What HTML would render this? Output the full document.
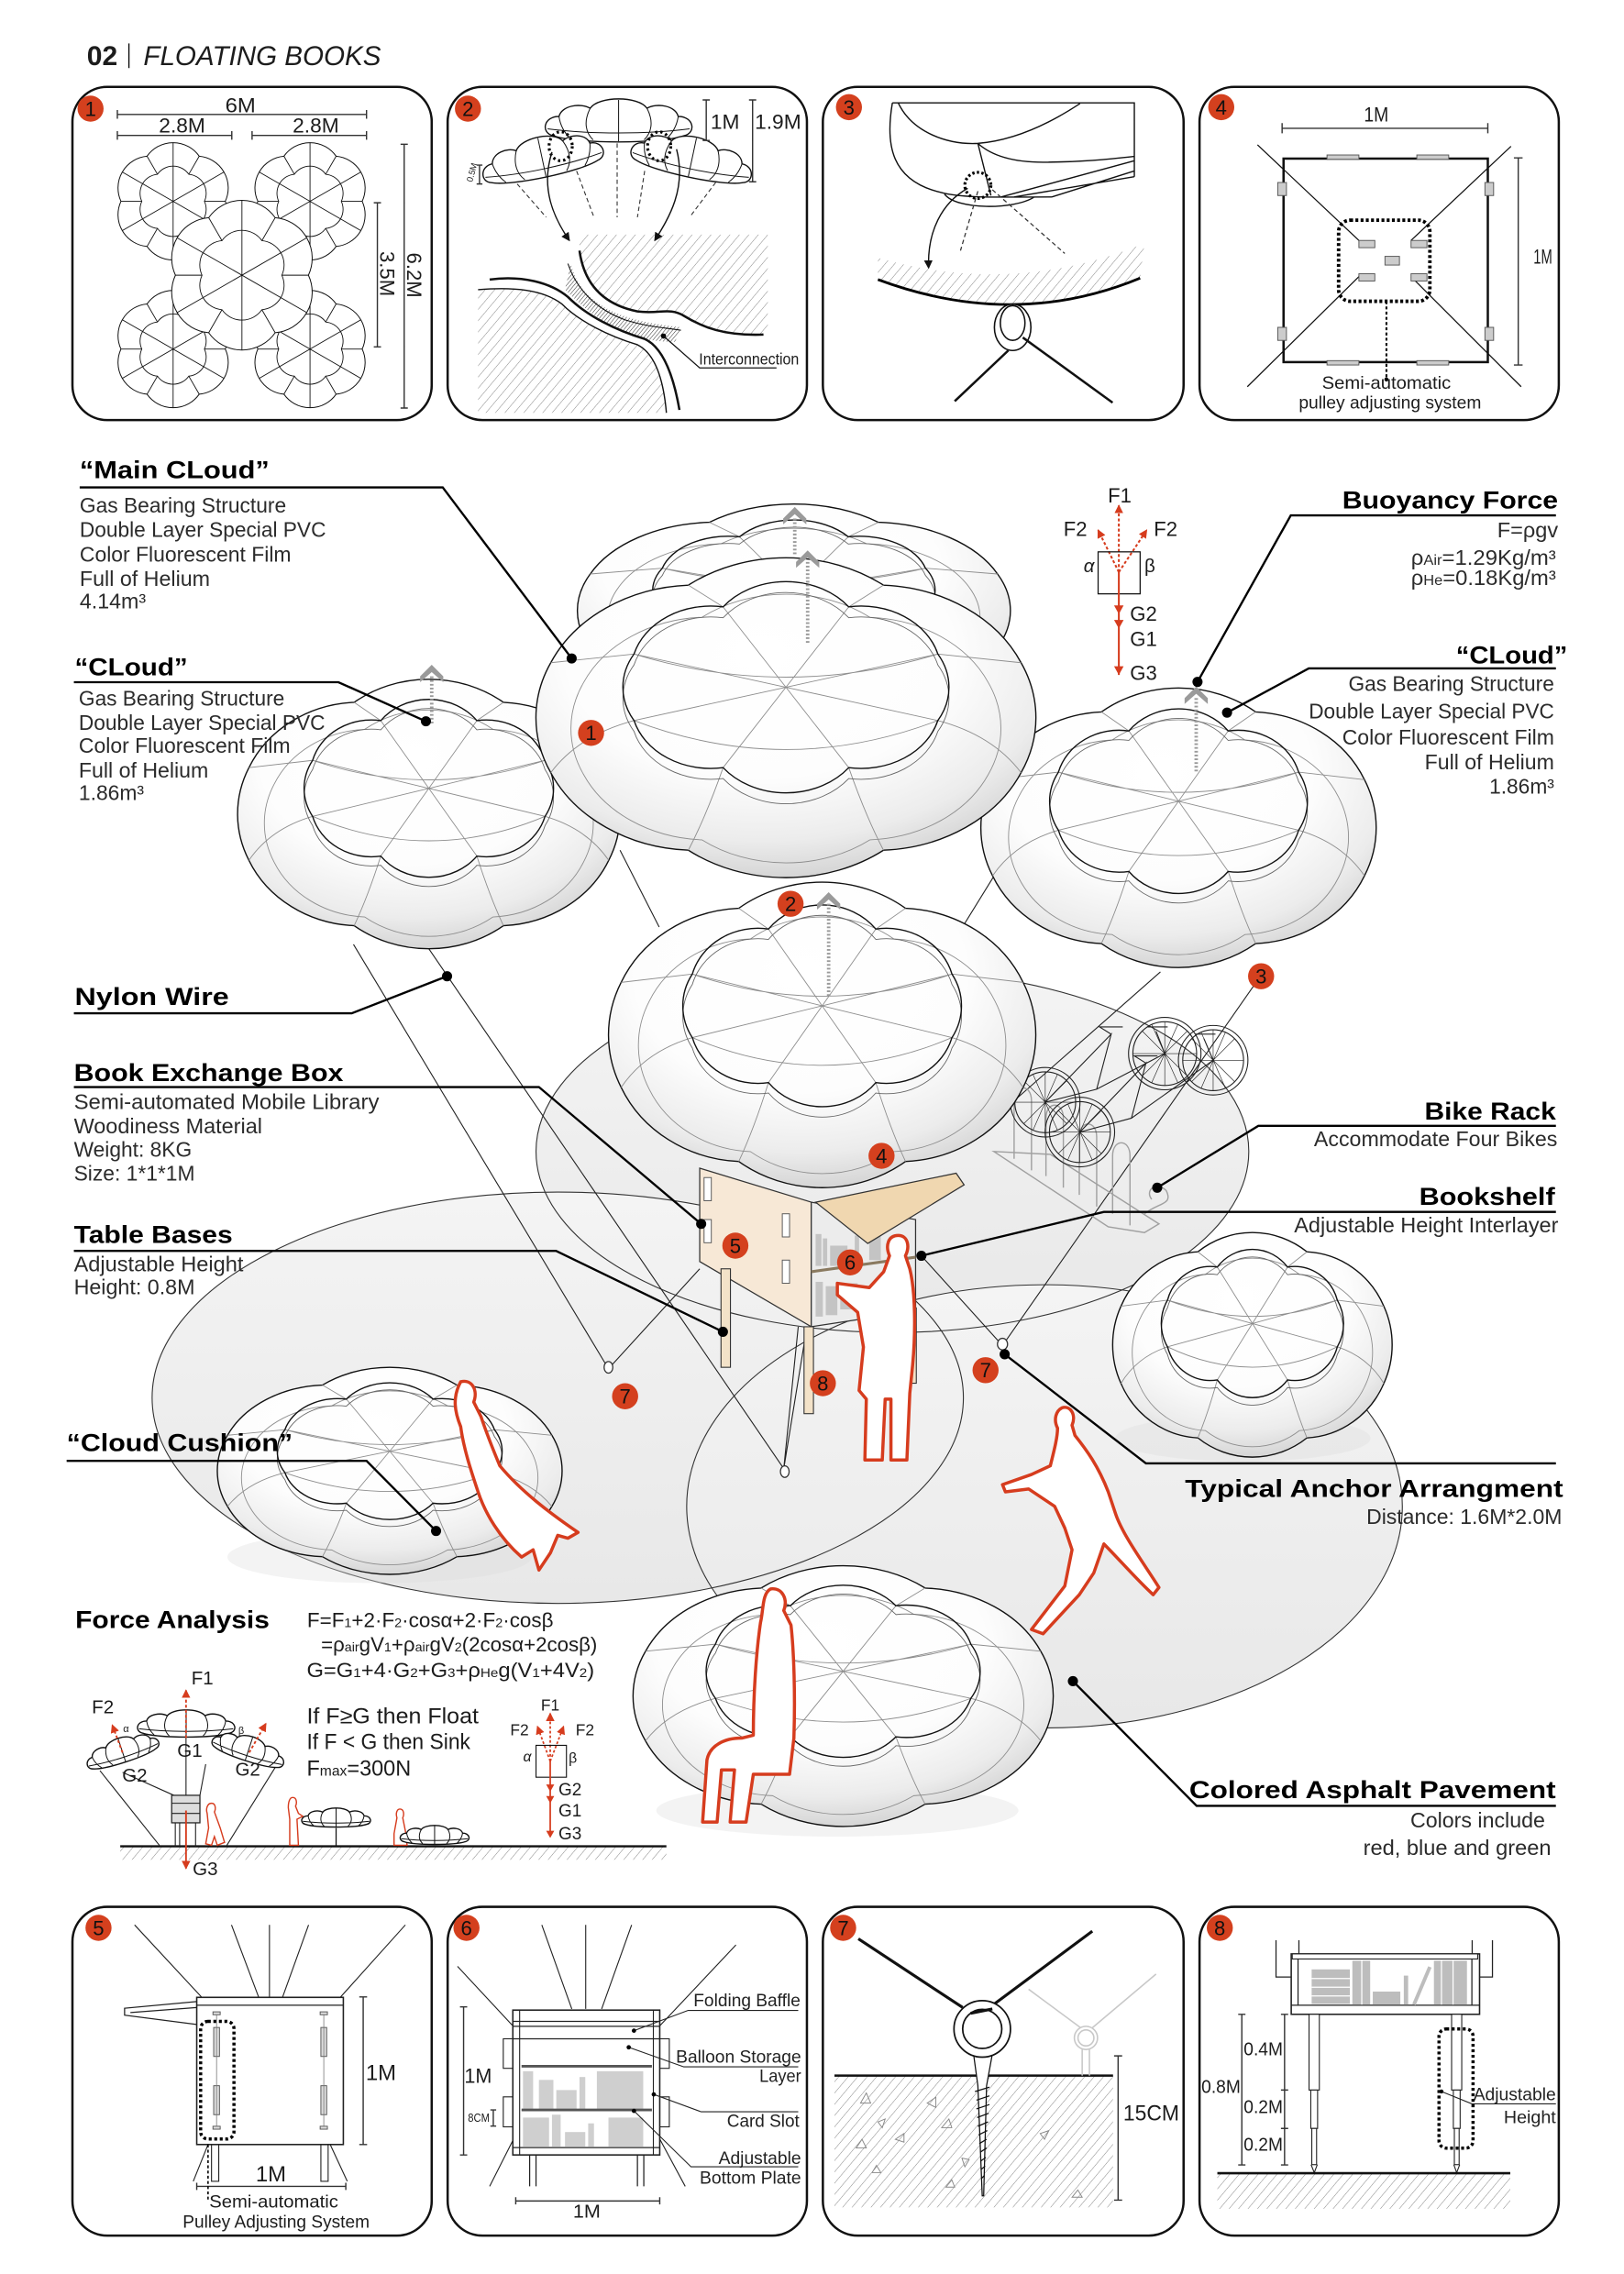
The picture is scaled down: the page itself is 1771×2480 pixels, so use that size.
<!DOCTYPE html>
<html><head><meta charset="utf-8">
<style>
html,body{margin:0;padding:0;background:#fff;}
svg{display:block;}
text{font-family:"Liberation Sans",Arial,sans-serif;fill:#1c1c1c;}
.h{font-weight:bold;font-size:17px;fill:#000;}
.b{font-size:14.5px;fill:#2b2b2b;}
.s{font-size:12.5px;fill:#222;}
.n{font-size:14px;fill:#111;text-anchor:middle;}
.ld{stroke:#000;stroke-width:1.5;fill:none;}
.k{stroke:#111;stroke-width:1.4;fill:none;vector-effect:non-scaling-stroke;}
.kf{stroke:#111;stroke-width:1.4;vector-effect:non-scaling-stroke;}
.g{stroke:#8e8e8e;stroke-width:0.9;fill:none;vector-effect:non-scaling-stroke;}
.pn{fill:none;stroke:#111;stroke-width:1.6;}
.w{stroke:#222;stroke-width:0.7;fill:none;}
.fig{fill:#fff;stroke:#d63c1e;stroke-width:2.2;stroke-linejoin:round;}
.d{stroke:#333;stroke-width:0.9;fill:none;}
</style></head><body>
<svg width="1771" height="2480" viewBox="0 0 1121 1570" preserveAspectRatio="none" xmlns="http://www.w3.org/2000/svg">
<defs>
<radialGradient id="cg" cx="0.45" cy="0.3" r="0.78">
<stop offset="0" stop-color="#ffffff"/><stop offset="0.5" stop-color="#fdfdfd"/><stop offset="0.75" stop-color="#ececec"/><stop offset="0.92" stop-color="#d2d2d2"/><stop offset="1" stop-color="#bdbdbd"/>
</radialGradient>
<linearGradient id="pv" x1="0" y1="0" x2="0" y2="1"><stop offset="0" stop-color="#f4f4f4"/><stop offset="1" stop-color="#e8e8e8"/></linearGradient>
<pattern id="h" width="5" height="5" patternUnits="userSpaceOnUse" patternTransform="rotate(40)"><line x1="0" y1="0" x2="0" y2="5" stroke="#666" stroke-width="0.5"/></pattern>
<pattern id="hd" width="2" height="2" patternUnits="userSpaceOnUse" patternTransform="rotate(40)"><line x1="0" y1="0" x2="0" y2="2" stroke="#222" stroke-width="0.6"/></pattern>
<marker id="ka" viewBox="0 0 8 8" refX="7" refY="4" markerWidth="6" markerHeight="6" markerUnits="userSpaceOnUse" orient="auto"><path d="M0,0 L8,4 L0,8 z" fill="#111"/></marker>
<marker id="ra" viewBox="0 0 8 8" refX="7" refY="4" markerWidth="6" markerHeight="6" markerUnits="userSpaceOnUse" orient="auto"><path d="M0,0 L8,4 L0,8 z" fill="#d63c1e"/></marker>
<g id="cl">
<path d="M88.7,25.3A60,60 0 0 1 36.8,61A60,60 0 0 1 -36.8,61A60,60 0 0 1 -88.7,25.3A60,60 0 0 1 -88.7,-25.3A60,60 0 0 1 -36.8,-61A60,60 0 0 1 36.8,-61A60,60 0 0 1 88.7,-25.3A60,60 0 0 1 88.7,25.3Z" fill="url(#cg)" class="kf"/>
<path d="M88.7,25.3A60,60 0 0 1 36.8,61A60,60 0 0 1 -36.8,61A60,60 0 0 1 -88.7,25.3A60,60 0 0 1 -88.7,-25.3A60,60 0 0 1 -36.8,-61A60,60 0 0 1 36.8,-61A60,60 0 0 1 88.7,-25.3A60,60 0 0 1 88.7,25.3Z" transform="translate(0,5) scale(0.86,0.84)" class="g"/>
<path class="g" d="M0,-14L57.3,1.3M0,-14L23.7,23M0,-14L-23.7,23M0,-14L-57.3,1.3M0,-14L-57.3,-29.3M0,-14L-23.7,-51M0,-14L23.7,-51M0,-14L57.3,-29.3M57.3,1.3Q78,8 88.7,25.3M23.7,23Q30,45 36.8,61M-23.7,23Q-30,45 -36.8,61M-57.3,1.3Q-78,8 -88.7,25.3M-57.3,-29.3L-88.7,-25.3M57.3,-29.3L88.7,-25.3M-23.7,-51L-36.8,-61M23.7,-51L36.8,-61M-57.3,1.3Q0,28 57.3,1.3M-57.3,-29.3Q0,-8 57.3,-29.3"/>
<path d="M57.3,1.3A30,30 0 0 1 23.7,23A30,30 0 0 1 -23.7,23A30,30 0 0 1 -57.3,1.3A30,30 0 0 1 -57.3,-29.3A30,30 0 0 1 -23.7,-51A30,30 0 0 1 23.7,-51A30,30 0 0 1 57.3,-29.3A30,30 0 0 1 57.3,1.3Z" transform="translate(0,5)" class="g" style="stroke:#666"/>
<path d="M57.3,1.3A30,30 0 0 1 23.7,23A30,30 0 0 1 -23.7,23A30,30 0 0 1 -57.3,1.3A30,30 0 0 1 -57.3,-29.3A30,30 0 0 1 -23.7,-51A30,30 0 0 1 23.7,-51A30,30 0 0 1 57.3,-29.3A30,30 0 0 1 57.3,1.3Z" class="k"/>
</g>
<g id="fl">
<path d="M0.9,0A0.55,0.55 0 0 1 0.45,0.779A0.55,0.55 0 0 1 -0.45,0.779A0.55,0.55 0 0 1 -0.9,0A0.55,0.55 0 0 1 -0.45,-0.779A0.55,0.55 0 0 1 0.45,-0.779A0.55,0.55 0 0 1 0.9,0Z" fill="#fff" class="kf" style="stroke-width:1"/>
<path d="M0.9,0A0.55,0.55 0 0 1 0.45,0.779A0.55,0.55 0 0 1 -0.45,0.779A0.55,0.55 0 0 1 -0.9,0A0.55,0.55 0 0 1 -0.45,-0.779A0.55,0.55 0 0 1 0.45,-0.779A0.55,0.55 0 0 1 0.9,0Z" transform="scale(0.6)" class="k" style="stroke-width:0.9"/>
<path class="k" style="stroke-width:0.9" d="M-0.877,-0.506L0.877,0.506M0,-1.013L0,1.013M-0.877,0.506L0.877,-0.506M0.54,0L0.9,0M-0.54,0L-0.9,0M0.27,0.467L0.45,0.779M-0.27,0.467L-0.45,0.779M0.27,-0.467L0.45,-0.779M-0.27,-0.467L-0.45,-0.779"/>
</g>
<g id="sc">
<path class="kf" fill="#fff" d="M-46,6C-55,4 -53,-8 -42,-8C-40,-16 -27,-18 -20,-14C-14,-23 14,-23 20,-14C27,-18 40,-16 42,-8C53,-8 55,4 46,6C30,12 -30,12 -46,6Z"/>
<path class="k" style="stroke-width:1" d="M-20,-14C-25,-4 -23,4 -18,9M20,-14C25,-4 23,4 18,9M-42,-8C-41,-1 -38,4 -34,8M42,-8C41,-1 38,4 34,8M-50,1C-20,5 20,5 50,1M0,-20L0,10"/>
</g>
<g id="up"><path d="M-8,8 L0,0 L8,8 L8,12 L0,5 L-8,12 Z" fill="#9a9a9a"/></g>
</defs>

<!-- TITLE -->
<text x="60" y="45" font-size="19" font-weight="bold" fill="#000">02</text>
<line x1="89" y1="30" x2="89" y2="47" stroke="#000" stroke-width="0.8"/>
<text x="99" y="45" font-size="19" font-style="italic" textLength="164" lengthAdjust="spacingAndGlyphs" fill="#111">FLOATING BOOKS</text>

<!-- TOP PANELS -->
<rect x="50" y="60" width="248" height="230" rx="24" class="pn"/>
<rect x="309" y="60" width="248" height="230" rx="24" class="pn"/>
<rect x="568" y="60" width="249" height="230" rx="24" class="pn"/>
<rect x="828" y="60" width="248" height="230" rx="24" class="pn"/>

<!-- panel 1 -->
<path class="d" d="M81,79H253M81,76V82M253,76V82M81,93.5H160M81,90.5V96.5M160,90.5V96.5M174,93.5H253M174,90.5V96.5M253,90.5V96.5M260.5,140V239.5M258,140H263M258,239.5H263M279,99.6V281.7M276.5,99.6H281.5M276.5,281.7H281.5"/>
<text x="166" y="77.5" font-size="14" text-anchor="middle" textLength="21" lengthAdjust="spacingAndGlyphs">6M</text>
<text x="125.7" y="91.5" font-size="14" text-anchor="middle" textLength="32" lengthAdjust="spacingAndGlyphs">2.8M</text>
<text x="218" y="91.5" font-size="14" text-anchor="middle" textLength="32" lengthAdjust="spacingAndGlyphs">2.8M</text>
<text transform="translate(262.5,189) rotate(90)" font-size="14" text-anchor="middle">3.5M</text>
<text transform="translate(281,190) rotate(90)" font-size="14" text-anchor="middle">6.2M</text>
<use href="#fl" transform="translate(119.5,139) scale(40,40)"/>
<use href="#fl" transform="translate(214,139) scale(40,40)"/>
<use href="#fl" transform="translate(119.5,241) scale(40,40)"/>
<use href="#fl" transform="translate(214,241) scale(40,40)"/>
<use href="#fl" transform="translate(167,190) scale(51,51)"/>

<!-- panel 2 -->
<path d="M400,162 L530,162 L530,231 C500,232 485,226 472,218 C462,212 455,217 440,215 C415,210 403,195 400,173 Z" fill="url(#h)"/>
<path d="M330,200 C355,198 375,200 388,210 C400,222 420,232 440,238 C452,244 458,262 460,285 L330,285 Z" fill="url(#h)"/>
<path d="M394,182 C398,198 408,210 430,218 C445,223 455,224 470,226 L466,236 C450,236 438,233 426,227 C410,219 398,208 390,200 Z" fill="url(#hd)"/>
<path d="M400,173 C403,195 415,210 440,215 C455,217 462,212 472,218 C485,226 500,232 527,231" fill="none" stroke="#111" stroke-width="1.6"/>
<path d="M338,193 C360,190 380,195 392,205 C405,218 425,228 445,234 C458,240 465,260 469,283" fill="none" stroke="#111" stroke-width="1.6"/>
<path d="M330,200 C355,198 375,200 388,210 C400,222 420,232 440,238 C452,244 458,262 460,285" fill="none" stroke="#111" stroke-width="0.9"/>
<path d="M392,182 C398,200 412,214 432,221 C448,226 458,226 470,228" fill="none" stroke="#111" stroke-width="0.7"/>
<path d="M357,127L377,150M398,118L410,150M426,99L426,150M445,118L440,150M494,126L476,150" stroke="#333" stroke-width="0.7" stroke-dasharray="3 2" fill="none"/>
<use href="#sc" transform="translate(427,88) scale(0.98,0.95)"/>
<use href="#sc" transform="translate(375,113) rotate(-12) scale(0.82,0.9)"/>
<use href="#sc" transform="translate(477,113) rotate(12) scale(0.82,0.9)"/>
<ellipse cx="387" cy="101" rx="8" ry="10" fill="none" stroke="#000" stroke-width="2" stroke-dasharray="1.6 2"/>
<ellipse cx="455" cy="101" rx="8" ry="10" fill="none" stroke="#000" stroke-width="2" stroke-dasharray="1.6 2"/>
<path d="M381,105 C373,130 382,150 393,166" fill="none" stroke="#111" stroke-width="0.9" marker-end="url(#ka)"/>
<path d="M467,103 C474,130 462,150 452,166" fill="none" stroke="#111" stroke-width="0.9" marker-end="url(#ka)"/>
<path class="d" d="M487.5,69V97M485,69H490M485,97H490M519.5,69V125.5M517,69H522M517,125.5H522M331,114V127M329,114H333M329,127H333"/>
<text x="490.5" y="89" font-size="14" textLength="20" lengthAdjust="spacingAndGlyphs">1M</text>
<text x="521" y="89" font-size="14" textLength="32" lengthAdjust="spacingAndGlyphs">1.9M</text>
<text transform="translate(326,126) rotate(-75)" font-size="6">0.5M</text>
<circle cx="458" cy="232" r="1.8" fill="#000"/>
<path d="M458,232 L483,254 L536,254" fill="none" stroke="#111" stroke-width="0.8"/>
<text x="482.5" y="251.5" font-size="11" textLength="69" lengthAdjust="spacingAndGlyphs">Interconnection</text>

<!-- panel 3 -->
<path d="M606,178 Q700,205 790,168 L787,192 Q700,228 606,193 Z" fill="url(#h)"/>
<path d="M606,193 Q700,228 787,192" fill="none" stroke="#000" stroke-width="1.8"/>
<path d="M616,71 L783,71 L783,122 M616,71 C611,100 615,125 650,133 C665,137 690,136 726,136 M620,71 C630,92 655,100 675,99 C700,97 725,85 745.5,71.5 M675,99 C685,108 700,112 720,112 C745,112 765,110 783,108 M675,99 L684,135 M691,136 L783,111 M726,136 L783,118 M700,136 L783,122 M652,134 C660,145 700,145 714,136" fill="none" stroke="#111" stroke-width="0.9"/>
<circle cx="675" cy="128" r="9" fill="none" stroke="#000" stroke-width="2" stroke-dasharray="1.6 1.6"/>
<path d="M668,130 C650,140 640,160 641,185" fill="none" stroke="#111" stroke-width="0.9" marker-end="url(#ka)"/>
<path d="M675,132L663,173M685,131L735,175" stroke="#333" stroke-width="0.8" stroke-dasharray="3 2" fill="none"/>
<ellipse cx="699" cy="226" rx="12.6" ry="16" fill="#fff" stroke="#111" stroke-width="1"/>
<ellipse cx="699" cy="223" rx="8.5" ry="12" fill="#fff" stroke="#111" stroke-width="1"/>
<path d="M696,242L659,277M706,233L768,278" stroke="#111" stroke-width="1.6" fill="none"/>

<!-- panel 4 -->
<path class="d" d="M885,88.6H1027M885,85V92M1027,85V92M1048,109V252M1045,109H1051M1045,252H1051"/>
<text x="950" y="84" font-size="14" text-anchor="middle" textLength="17" lengthAdjust="spacingAndGlyphs">1M</text>
<text x="1058.5" y="182" font-size="14" textLength="13" lengthAdjust="spacingAndGlyphs">1M</text>
<rect x="886" y="109.5" width="141" height="140.5" fill="#fff" stroke="#111" stroke-width="1.6"/>
<path d="M868,100L938,166M1043,101L974,166M938,191L861,267M974,191L1050,267" stroke="#111" stroke-width="0.8" fill="none"/>
<g fill="#ccc" stroke="#555" stroke-width="0.6">
<rect x="938" y="166" width="11" height="5"/><rect x="974" y="166" width="11" height="5"/><rect x="938" y="189" width="11" height="5"/><rect x="974" y="189" width="11" height="5"/><rect x="956" y="177" width="10" height="6"/>
<rect x="882" y="126" width="6" height="9"/><rect x="882" y="226" width="6" height="9"/><rect x="1025" y="126" width="6" height="9"/><rect x="1025" y="226" width="6" height="9"/>
<rect x="916" y="107" width="22" height="3"/><rect x="978" y="107" width="22" height="3"/><rect x="916" y="249" width="22" height="3"/><rect x="978" y="249" width="22" height="3"/>
</g>
<rect x="924" y="152" width="63" height="56" rx="8" fill="none" stroke="#000" stroke-width="2.4" stroke-dasharray="2 1.6"/>
<path d="M957,208V262" stroke="#000" stroke-width="1.3" stroke-dasharray="2 1.6"/>
<circle cx="957" cy="262" r="1.4" fill="#000"/>
<text x="957" y="268.5" font-size="12.5" text-anchor="middle" textLength="89" lengthAdjust="spacingAndGlyphs">Semi-automatic</text>
<text x="959.5" y="282" font-size="12.5" text-anchor="middle" textLength="126" lengthAdjust="spacingAndGlyphs">pulley adjusting system</text>

<!-- MAIN SCENE: pavements -->
<ellipse cx="616" cy="795" rx="246" ry="125" fill="url(#pv)"/>
<ellipse cx="385" cy="965" rx="280" ry="142" fill="url(#pv)"/>
<ellipse cx="721" cy="1040" rx="247" ry="153" fill="url(#pv)"/>
<g fill="none" stroke="#333" stroke-width="0.7">
<ellipse cx="616" cy="795" rx="246" ry="125"/>
<ellipse cx="385" cy="965" rx="280" ry="142"/>
<ellipse cx="721" cy="1040" rx="247" ry="153"/>
</g>
<!-- cushion shadows -->
<ellipse cx="262" cy="1075" rx="105" ry="18" fill="#dcdcdc" opacity="0.35"/>
<ellipse cx="858" cy="993" rx="88" ry="16" fill="#dcdcdc" opacity="0.35"/>
<ellipse cx="578" cy="1250" rx="125" ry="18" fill="#dcdcdc" opacity="0.35"/>

<!-- wires -->
<path class="w" d="M244,652L420,945M296,655L541,1014M420,945L483,876M428,587L455,640M686,605L657,652M801,671L700,760M870,674L692,929M692,929L636,867M541,1014L557,916M541,1014L551,916"/>
<g fill="#fff" stroke="#333" stroke-width="0.8">
<ellipse cx="420" cy="944" rx="3" ry="4"/><ellipse cx="692" cy="928" rx="3.5" ry="4"/><ellipse cx="541.7" cy="1016" rx="3" ry="4"/>
</g>

<!-- bike rack -->
<g stroke="#a0a0a0" stroke-width="0.9" fill="none">
<path d="M686,795 L765,847 L790,851 L800,845 L725,797 Z"/>
<path d="M700,800 L700,760 C700,748 712,748 712,760 L712,808"/>
<path d="M722,812 L722,772 C722,760 734,760 734,772 L734,820"/>
<path d="M745,825 L745,785 C745,773 757,773 757,785 L757,833"/>
<path d="M768,838 L768,798 C768,786 780,786 780,798 L780,846"/>
<path d="M790,838 C800,830 810,832 805,822 C798,815 790,822 795,828"/>
</g>
<g stroke="#222" stroke-width="0.7" fill="none">
<circle cx="721.5" cy="761" r="24"/><circle cx="721.5" cy="761" r="21"/>
<circle cx="745.4" cy="781.6" r="24"/><circle cx="745.4" cy="781.6" r="21"/>
<circle cx="804" cy="727.4" r="25"/><circle cx="804" cy="727.4" r="22"/>
<circle cx="837.4" cy="732" r="24"/><circle cx="837.4" cy="732" r="21"/>
<path stroke-width="0.4" d="M721.5,740V782M700.5,761H742.5M706.7,746.2L736.3,775.8M706.7,775.8L736.3,746.2M713,741.6L730,780.4M713,780.4L730,741.6M745.4,760.6V802.6M724.4,781.6H766.4M730.6,766.8L760.2,796.4M730.6,796.4L760.2,766.8M737,762L754,801M737,801L754,762M804,705.4V749.4M782,727.4H826M788.4,711.8L819.6,743M788.4,743L819.6,711.8M795,707.4L813,747.4M795,747.4L813,707.4M837.4,711V753M816.4,732H858.4M822.6,717.2L852.2,746.8M822.6,746.8L852.2,717.2M829,712.4L846,751.6M829,751.6L846,712.4"/>
<path d="M721.5,761L757,752L804,727.4M757,752L767,714L721.5,761M767,714L759,709L775,709M798,712L804,727.4M792,709L806,709M745.4,781.6L781,772L837.4,732M781,772L791,734L745.4,781.6M791,734L783,729L799,729M831,717L837.4,732M825,714L839,714"/>
</g>

<!-- book exchange box -->
<polygon points="483,806.5 560,830 560,916 483,871" fill="#f7e8d6" stroke="#333" stroke-width="0.8"/>
<polygon points="560,830 632,842 632,905 560,916" fill="#ececec" stroke="#333" stroke-width="0.8"/>
<g fill="#c4c4c4">
<rect x="563" y="852" width="4" height="22"/><rect x="568" y="855" width="3" height="19"/><rect x="573" y="860" width="12" height="14"/><rect x="590" y="853" width="3" height="20"/><rect x="600" y="850" width="8" height="20"/>
<rect x="563" y="885" width="5" height="24"/><rect x="570" y="888" width="8" height="20"/><rect x="580" y="886" width="12" height="18"/>
</g>
<path d="M560,878 L632,868" stroke="#8a7a60" stroke-width="2"/>
<polygon points="563,830 660,810 665.5,818 599,858.5" fill="#f0d7b0" stroke="#333" stroke-width="0.8"/>
<g fill="#fff" stroke="#555" stroke-width="0.6">
<rect x="486" y="813" width="5" height="16"/><rect x="486" y="842" width="5" height="16"/><rect x="540" y="838" width="5" height="16"/><rect x="540" y="870" width="5" height="16"/>
</g>
<rect x="497.7" y="876" width="6.5" height="68" fill="#f3e2c8" stroke="#333" stroke-width="0.7"/>
<rect x="555" y="916" width="6.5" height="60" fill="#f3e2c8" stroke="#333" stroke-width="0.7"/>
<rect x="628" y="903" width="4.5" height="52" fill="#f3e2c8" stroke="#333" stroke-width="0.7"/>

<!-- clouds -->
<use href="#cl" transform="translate(548,421.6) scale(1.585,1)"/>
<use href="#cl" transform="translate(296,562) scale(1.4,1.264)"/>
<use href="#cl" transform="translate(813.5,571.5) scale(1.447,1.311)"/>
<use href="#cl" transform="translate(542.5,495.5) scale(1.83,1.5)"/>
<use href="#cl" transform="translate(567.5,714.5) scale(1.564,1.433)"/>
<use href="#cl" transform="translate(269,1015.5) scale(1.262,0.971)"/>
<use href="#cl" transform="translate(864.5,928.5) scale(1.023,1.053)"/>
<use href="#cl" transform="translate(582,1171) scale(1.538,1.223)"/>

<!-- up arrows -->
<g stroke="#9a9a9a" stroke-width="2.4" stroke-dasharray="1.2 1.4" fill="none">
<path d="M548.6,358V383M557.5,388V445M298,467V500M825.7,482V534M572,624V689"/>
</g>
<use href="#up" transform="translate(548.6,350)"/>
<use href="#up" transform="translate(557.5,380)"/>
<use href="#up" transform="translate(298,459)"/>
<use href="#up" transform="translate(825.7,474)"/>
<use href="#up" transform="translate(572,616)"/>

<!-- red figures -->
<path class="fig" d="M620,853 C627,853 628,861 625,867 L628,876 C632,892 632,920 630,942 L628,962 L626,1008 L615,1008 L615,966 L611,966 L609,1008 L597,1008 L598,966 L593,960 L596,930 L592,906 L578,894 L578,886 L600,889 L610,878 L614,867 C611,860 613,853 620,853 Z"/>
<path class="fig" d="M318,954 C326,952 330,960 327,968 L332,978 C336,990 340,1000 345,1012 C360,1030 380,1045 399,1058 L392,1062 L385,1060 L380,1072 L372,1084 L368,1070 L360,1075 C345,1062 335,1045 330,1030 C325,1015 320,1000 318,985 C314,975 312,965 318,954 Z"/>
<path class="fig" d="M733,972 C739,970 743,977 740,984 L742,991 C750,1001 758,1012 765,1030 L770,1045 C775,1060 790,1080 800,1096 L796,1101 C785,1091 772,1076 762,1066 L755,1086 L745,1101 L720,1128 L712,1125 L735,1095 L740,1070 L735,1055 L728,1040 L710,1028 L694,1030 L692,1025 L712,1018 L725,1012 C728,1000 730,992 730,986 C727,980 729,974 733,972 Z"/>
<path class="fig" d="M532,1097 C540,1096 544,1104 541,1112 L546,1122 C548,1140 549,1170 548,1200 L545,1225 L520,1225 L515,1258 L504,1258 L507,1222 L498,1222 L495,1258 L485,1258 L488,1215 C490,1205 500,1200 512,1200 L520,1198 C520,1170 522,1140 525,1120 C527,1112 526,1100 532,1097 Z"/>

<!-- top force diagram -->
<g stroke="#d63c1e" stroke-width="1.3" stroke-dasharray="2 1.5" fill="none">
<path d="M772.3,395V349" marker-end="url(#ra)"/>
<path d="M772.3,395L758,366" marker-end="url(#ra)"/>
<path d="M772.3,395L791.5,366" marker-end="url(#ra)"/>
</g>
<rect x="758" y="381" width="29" height="29" fill="none" stroke="#111" stroke-width="0.8"/>
<path d="M772.3,395V466" stroke="#d63c1e" stroke-width="1.3"/>
<path d="M769,418L772.3,424L775.6,418ZM769,428L772.3,434L775.6,428ZM769,460L772.3,466L775.6,460Z" fill="#d63c1e"/>
<text x="772.9" y="347" font-size="14" text-anchor="middle">F1</text>
<text x="742.3" y="370" font-size="14" text-anchor="middle">F2</text>
<text x="804.6" y="370" font-size="14" text-anchor="middle">F2</text>
<text x="751.7" y="395" font-size="13" text-anchor="middle" font-style="italic">α</text>
<text x="793.7" y="395" font-size="13" text-anchor="middle">β</text>
<text x="780" y="428.5" font-size="14">G2</text>
<text x="780" y="446" font-size="14">G1</text>
<text x="780" y="469.5" font-size="14">G3</text>

<!-- leaders -->
<g class="ld">
<path d="M55,336.5H305.6L394.6,454.6"/>
<path d="M51,471H233.6L294,498"/>
<path d="M51,699.6H242.8L308.6,674"/>
<path d="M51,750.5H372L484,845"/>
<path d="M51,863.6H383.8L499,919.5"/>
<path d="M46,1008.6H253L301,1057"/>
<path d="M1074,355.8H891L826.6,470.8"/>
<path d="M1074,461.5H903.4L847,492"/>
<path d="M1074,777.3H868.6L798.8,820"/>
<path d="M1074,836.7H762L636,867"/>
<path d="M1074,1010.3H791L693.5,935"/>
<path d="M1074,1246.8H826L740.6,1160.7"/>
</g>
<g fill="#000">
<circle cx="394.6" cy="454.6" r="3.5"/><circle cx="294" cy="498" r="3.5"/><circle cx="308.6" cy="674" r="3.5"/><circle cx="484" cy="845" r="3.5"/><circle cx="499" cy="919.5" r="3.5"/><circle cx="301" cy="1057" r="3.5"/>
<circle cx="826.6" cy="470.8" r="3.5"/><circle cx="847" cy="492" r="3.5"/><circle cx="798.8" cy="820" r="3.5"/><circle cx="636" cy="867" r="3.5"/><circle cx="693.5" cy="935" r="3.5"/><circle cx="740.6" cy="1160.7" r="3.5"/>
</g>

<!-- badges main -->
<g>
<circle cx="408" cy="506" r="9" fill="#d4401e"/><text x="408" y="511" class="n">1</text>
<circle cx="545.7" cy="624" r="9" fill="#d4401e"/><text x="545.7" y="629" class="n">2</text>
<circle cx="870.5" cy="674" r="9" fill="#d4401e"/><text x="870.5" y="679" class="n">3</text>
<circle cx="608.5" cy="798" r="9" fill="#d4401e"/><text x="608.5" y="803" class="n">4</text>
<circle cx="507.6" cy="860" r="9" fill="#d4401e"/><text x="507.6" y="865" class="n">5</text>
<circle cx="586.8" cy="871.6" r="9" fill="#d4401e"/><text x="586.8" y="876.6" class="n">6</text>
<circle cx="431.5" cy="964" r="9" fill="#d4401e"/><text x="431.5" y="969" class="n">7</text>
<circle cx="680.3" cy="946" r="9" fill="#d4401e"/><text x="680.3" y="951" class="n">7</text>
<circle cx="568" cy="955" r="9" fill="#d4401e"/><text x="568" y="960" class="n">8</text>
<circle cx="62.5" cy="75" r="9" fill="#d4401e"/><text x="62.5" y="80" class="n">1</text>
<circle cx="323" cy="75" r="9" fill="#d4401e"/><text x="323" y="80" class="n">2</text>
<circle cx="586" cy="74" r="9" fill="#d4401e"/><text x="586" y="79" class="n">3</text>
<circle cx="843" cy="74" r="9" fill="#d4401e"/><text x="843" y="79" class="n">4</text>
</g>

<!-- LEFT LABELS -->
<text x="55" y="330.3" class="h" textLength="131" lengthAdjust="spacingAndGlyphs">“Main CLoud”</text>
<text x="55" y="354" class="b" textLength="142.6" lengthAdjust="spacingAndGlyphs">Gas Bearing Structure</text>
<text x="55" y="370.8" class="b" textLength="170" lengthAdjust="spacingAndGlyphs">Double Layer Special PVC</text>
<text x="55" y="387.6" class="b" textLength="146" lengthAdjust="spacingAndGlyphs">Color Fluorescent Film</text>
<text x="55" y="404.4" class="b" textLength="90" lengthAdjust="spacingAndGlyphs">Full of Helium</text>
<text x="55" y="420" class="b" textLength="45.7" lengthAdjust="spacingAndGlyphs">4.14m³</text>

<text x="51.6" y="466.4" class="h" textLength="78" lengthAdjust="spacingAndGlyphs">“CLoud”</text>
<text x="54.4" y="487" class="b" textLength="142" lengthAdjust="spacingAndGlyphs">Gas Bearing Structure</text>
<text x="54.4" y="503.8" class="b" textLength="170" lengthAdjust="spacingAndGlyphs">Double Layer Special PVC</text>
<text x="54.4" y="519.8" class="b" textLength="146" lengthAdjust="spacingAndGlyphs">Color Fluorescent Film</text>
<text x="54.4" y="536.9" class="b" textLength="89.5" lengthAdjust="spacingAndGlyphs">Full of Helium</text>
<text x="54.4" y="552.4" class="b" textLength="45" lengthAdjust="spacingAndGlyphs">1.86m³</text>

<text x="51.6" y="693.7" class="h" textLength="106.5" lengthAdjust="spacingAndGlyphs">Nylon Wire</text>

<text x="51" y="746.3" class="h" textLength="186" lengthAdjust="spacingAndGlyphs">Book Exchange Box</text>
<text x="51" y="765.6" class="b" textLength="210.7" lengthAdjust="spacingAndGlyphs">Semi-automated Mobile Library</text>
<text x="51" y="782.4" class="b" textLength="130" lengthAdjust="spacingAndGlyphs">Woodiness Material</text>
<text x="51" y="798.7" class="b" textLength="81.4" lengthAdjust="spacingAndGlyphs">Weight: 8KG</text>
<text x="51" y="815" class="b" textLength="83.5" lengthAdjust="spacingAndGlyphs">Size: 1*1*1M</text>

<text x="51" y="858" class="h" textLength="109.6" lengthAdjust="spacingAndGlyphs">Table Bases</text>
<text x="51" y="877.9" class="b" textLength="117" lengthAdjust="spacingAndGlyphs">Adjustable Height</text>
<text x="51" y="893.6" class="b" textLength="83.5" lengthAdjust="spacingAndGlyphs">Height: 0.8M</text>

<text x="46" y="1001.7" class="h" textLength="156" lengthAdjust="spacingAndGlyphs">“Cloud Cushion”</text>

<!-- RIGHT LABELS -->
<text x="1075.5" y="351" class="h" text-anchor="end" textLength="149" lengthAdjust="spacingAndGlyphs">Buoyancy Force</text>
<text x="1075.5" y="371" class="b" text-anchor="end" textLength="42" lengthAdjust="spacingAndGlyphs">F=ρgv</text>
<text x="1074" y="390" class="b" text-anchor="end" textLength="100" lengthAdjust="spacingAndGlyphs">ρ<tspan font-size="10">Air</tspan>=1.29Kg/m³</text>
<text x="1074" y="404" class="b" text-anchor="end" textLength="100" lengthAdjust="spacingAndGlyphs">ρ<tspan font-size="10">He</tspan>=0.18Kg/m³</text>

<text x="1082" y="458" class="h" text-anchor="end" textLength="77" lengthAdjust="spacingAndGlyphs">“CLoud”</text>
<text x="1072.8" y="477" class="b" text-anchor="end" textLength="142" lengthAdjust="spacingAndGlyphs">Gas Bearing Structure</text>
<text x="1072.8" y="496" class="b" text-anchor="end" textLength="169.4" lengthAdjust="spacingAndGlyphs">Double Layer Special PVC</text>
<text x="1072.8" y="514" class="b" text-anchor="end" textLength="146.3" lengthAdjust="spacingAndGlyphs">Color Fluorescent Film</text>
<text x="1072.8" y="531" class="b" text-anchor="end" textLength="89.4" lengthAdjust="spacingAndGlyphs">Full of Helium</text>
<text x="1072.8" y="548" class="b" text-anchor="end" textLength="44.8" lengthAdjust="spacingAndGlyphs">1.86m³</text>

<text x="1074" y="773" class="h" text-anchor="end" textLength="90.7" lengthAdjust="spacingAndGlyphs">Bike Rack</text>
<text x="1075" y="791.4" class="b" text-anchor="end" textLength="168" lengthAdjust="spacingAndGlyphs">Accommodate Four Bikes</text>
<text x="1073.3" y="832" class="h" text-anchor="end" textLength="93.7" lengthAdjust="spacingAndGlyphs">Bookshelf</text>
<text x="1075.7" y="850.8" class="b" text-anchor="end" textLength="182.4" lengthAdjust="spacingAndGlyphs">Adjustable Height Interlayer</text>
<text x="1079" y="1033.4" class="h" text-anchor="end" textLength="261" lengthAdjust="spacingAndGlyphs">Typical Anchor Arrangment</text>
<text x="1078.2" y="1052.3" class="b" text-anchor="end" textLength="135" lengthAdjust="spacingAndGlyphs">Distance: 1.6M*2.0M</text>
<text x="1073.9" y="1241.5" class="h" text-anchor="end" textLength="253" lengthAdjust="spacingAndGlyphs">Colored Asphalt Pavement</text>
<text x="1066.5" y="1261.6" class="b" text-anchor="end" textLength="93" lengthAdjust="spacingAndGlyphs">Colors include</text>
<text x="1070.7" y="1280.6" class="b" text-anchor="end" textLength="129.7" lengthAdjust="spacingAndGlyphs">red, blue and green</text>

<!-- FORCE ANALYSIS -->
<text x="52" y="1124" class="h" textLength="134" lengthAdjust="spacingAndGlyphs">Force Analysis</text>
<text x="212" y="1123.5" font-size="14" textLength="170" lengthAdjust="spacingAndGlyphs">F=F<tspan font-size="9">1</tspan>+2·F<tspan font-size="9">2</tspan>·cosα+2·F<tspan font-size="9">2</tspan>·cosβ</text>
<text x="221.6" y="1140" font-size="14" textLength="190.7" lengthAdjust="spacingAndGlyphs">=ρ<tspan font-size="9">air</tspan>gV<tspan font-size="9">1</tspan>+ρ<tspan font-size="9">air</tspan>gV<tspan font-size="9">2</tspan>(2cosα+2cosβ)</text>
<text x="211.7" y="1158" font-size="14" textLength="198.6" lengthAdjust="spacingAndGlyphs">G=G<tspan font-size="9">1</tspan>+4·G<tspan font-size="9">2</tspan>+G<tspan font-size="9">3</tspan>+ρ<tspan font-size="9">He</tspan>g(V<tspan font-size="9">1</tspan>+4V<tspan font-size="9">2</tspan>)</text>
<text x="211.7" y="1190" font-size="15" textLength="118.7" lengthAdjust="spacingAndGlyphs">If F≥G then Float</text>
<text x="211.7" y="1207.5" font-size="15" textLength="113" lengthAdjust="spacingAndGlyphs">If F &lt; G then Sink</text>
<text x="211.7" y="1226" font-size="15" textLength="72" lengthAdjust="spacingAndGlyphs">F<tspan font-size="10">max</tspan>=300N</text>

<!-- left force diagram -->
<rect x="83" y="1275" width="377" height="9" fill="url(#h)"/>
<path d="M83,1274.7H460" stroke="#111" stroke-width="1.5"/>
<path class="w" d="M69,1222.5L110,1274M84.6,1223.6L120,1239.5M128.4,1200L128.4,1239.5M142,1218L138,1239.5M190.5,1219.4L156.6,1274"/>
<use href="#sc" transform="translate(128.5,1193) scale(0.65,0.6)"/>
<use href="#sc" transform="translate(85,1211) rotate(-18) scale(0.5,0.55)"/>
<use href="#sc" transform="translate(171,1210) rotate(18) scale(0.5,0.55)"/>
<rect x="118.5" y="1239.5" width="19.5" height="19" fill="#ddd" stroke="#222" stroke-width="0.8"/>
<path d="M118.5,1245H138M118.5,1252H138M121,1258.5V1274.7M124,1258.5V1274.7M135,1258.5V1274.7" stroke="#222" stroke-width="0.7"/>
<g stroke="#d63c1e" stroke-width="1.2" stroke-dasharray="2 1.5" fill="none">
<path d="M128.4,1200V1167" marker-end="url(#ra)"/>
<path d="M84.6,1210L77.5,1191" marker-end="url(#ra)"/>
<path d="M172,1210L183.5,1190" marker-end="url(#ra)"/>
</g>
<path d="M128.4,1250V1290" stroke="#d63c1e" stroke-width="1.2" marker-end="url(#ra)"/>
<text x="139.7" y="1163" font-size="13" text-anchor="middle">F1</text>
<text x="71" y="1183" font-size="13" text-anchor="middle">F2</text>
<text x="131" y="1213" font-size="13" text-anchor="middle">G1</text>
<text x="93" y="1230" font-size="13" text-anchor="middle">G2</text>
<text x="171" y="1226" font-size="13" text-anchor="middle">G2</text>
<text x="141.7" y="1294.5" font-size="13" text-anchor="middle">G3</text>
<text x="87" y="1196" font-size="7" text-anchor="middle">α</text>
<text x="166.5" y="1197" font-size="7" text-anchor="middle">β</text>
<g fill="#fff" stroke="#d63c1e" stroke-width="0.9">
<path d="M146,1245 C149,1245 149,1249 148,1251 L152,1262 L155,1272 L150,1274 L148,1268 L146,1274 L142,1273 L144,1262 L143,1252 C142,1249 143,1245 146,1245 Z"/>
<path d="M202,1241 C205,1241 205,1245 204,1247 L206,1252 L209,1254 L205,1256 L206,1274 L200,1274 L200,1256 L199,1248 C199,1244 200,1241 202,1241 Z"/>
<path d="M276,1249 C279,1249 279,1253 278,1255 L280,1265 L281,1274 L272,1274 L272,1266 L274,1255 C273,1252 274,1249 276,1249 Z"/>
</g>
<use href="#sc" transform="translate(232,1257) scale(0.46,0.42)"/>
<path d="M232,1262V1274.7" stroke="#111" stroke-width="0.8"/>
<use href="#sc" transform="translate(300,1269) scale(0.46,0.42)"/>

<!-- small force diagram -->
<g stroke="#d63c1e" stroke-width="1.1" stroke-dasharray="1.8 1.4" fill="none">
<path d="M379.8,1216V1183" marker-end="url(#ra)"/>
<path d="M379.8,1216L371,1192" marker-end="url(#ra)"/>
<path d="M379.8,1216L389,1192" marker-end="url(#ra)"/>
</g>
<rect x="370" y="1205" width="21" height="22" fill="none" stroke="#111" stroke-width="0.7"/>
<path d="M379.8,1216V1268" stroke="#d63c1e" stroke-width="1.1"/>
<path d="M377,1232L379.8,1237L382.6,1232ZM377,1240L379.8,1245L382.6,1240ZM377,1264L379.8,1269L382.6,1264Z" fill="#d63c1e"/>
<text x="379.8" y="1181" font-size="11" text-anchor="middle">F1</text>
<text x="358.6" y="1198" font-size="11" text-anchor="middle">F2</text>
<text x="403.8" y="1198" font-size="11" text-anchor="middle">F2</text>
<text x="364" y="1216" font-size="10" text-anchor="middle" font-style="italic">α</text>
<text x="395.4" y="1217" font-size="10" text-anchor="middle">β</text>
<text x="385.5" y="1239.5" font-size="12">G2</text>
<text x="385.5" y="1254" font-size="12">G1</text>
<text x="385.5" y="1270" font-size="12">G3</text>

<!-- BOTTOM PANELS -->
<rect x="50" y="1316.5" width="248" height="227" rx="24" class="pn"/>
<rect x="309" y="1316.5" width="248" height="227" rx="24" class="pn"/>
<rect x="568" y="1316.5" width="249" height="227" rx="24" class="pn"/>
<rect x="828" y="1316.5" width="248" height="227" rx="24" class="pn"/>

<!-- panel 5 -->
<path class="w" d="M92.9,1329L149.5,1390M159.8,1329L178.6,1379M186,1329L186,1379M213,1329L195,1379M279.8,1329L225,1390M143.6,1480.6L133.4,1506M223,1470L239.7,1506"/>
<rect x="135.8" y="1379" width="101.2" height="101.6" fill="#fff" stroke="#222" stroke-width="1"/>
<path d="M135.8,1384.4H237" stroke="#222" stroke-width="0.8"/>
<path d="M135.8,1381.9L86,1386.5L86,1391.3L135.8,1397.7M135.8,1386L90,1389.5" fill="none" stroke="#222" stroke-width="0.8"/>
<g fill="#ddd" stroke="#555" stroke-width="0.6">
<rect x="147" y="1389" width="5" height="2"/><rect x="147.5" y="1399.8" width="4" height="20"/><rect x="147.5" y="1440" width="4" height="20"/><rect x="147" y="1468" width="5" height="2"/>
<rect x="221" y="1389" width="5" height="2"/><rect x="221.5" y="1399.8" width="4" height="20"/><rect x="221.5" y="1440" width="4" height="20"/><rect x="221" y="1468" width="5" height="2"/>
</g>
<path d="M149.5,1391V1468M223.5,1391V1468" stroke="#777" stroke-width="0.5"/>
<rect x="138.5" y="1395.6" width="23" height="81.2" rx="5" fill="none" stroke="#000" stroke-width="2.2" stroke-dasharray="2 1.8"/>
<rect x="146" y="1480.6" width="5" height="25.4" fill="none" stroke="#222" stroke-width="0.7"/>
<rect x="221.5" y="1480.6" width="5" height="25.4" fill="none" stroke="#222" stroke-width="0.7"/>
<path class="d" d="M250.7,1378.7V1480.6M248,1378.7H253.4M248,1480.6H253.4M135.8,1509.5H238.7M135.8,1507V1512M238.7,1507V1512"/>
<path d="M143.6,1480.6V1520" stroke="#000" stroke-width="1" stroke-dasharray="2 1.6"/>
<text x="252.5" y="1436" font-size="15" textLength="21" lengthAdjust="spacingAndGlyphs">1M</text>
<text x="187" y="1506" font-size="15" text-anchor="middle" textLength="21" lengthAdjust="spacingAndGlyphs">1M</text>
<text x="189" y="1524" font-size="12.5" text-anchor="middle" textLength="89" lengthAdjust="spacingAndGlyphs">Semi-automatic</text>
<text x="190.6" y="1538" font-size="12.5" text-anchor="middle" textLength="129" lengthAdjust="spacingAndGlyphs">Pulley Adjusting System</text>

<!-- panel 6 -->
<path class="w" d="M315.8,1357.6L354,1398.7M374,1329L394.7,1387M404.3,1329L404.3,1387M436,1329L415.3,1387M508,1342.8L455.4,1398.7M354,1477.8L338,1509.5M455.4,1476.8L473,1509.5"/>
<rect x="347.4" y="1407.6" width="6.6" height="20.4" fill="#fff" stroke="#222" stroke-width="0.7"/>
<rect x="347.4" y="1447.7" width="6.6" height="20.7" fill="#fff" stroke="#222" stroke-width="0.7"/>
<rect x="455.4" y="1407.6" width="6.6" height="20.4" fill="#fff" stroke="#222" stroke-width="0.7"/>
<rect x="455.4" y="1447.7" width="6.6" height="20.7" fill="#fff" stroke="#222" stroke-width="0.7"/>
<rect x="354" y="1387.8" width="101.4" height="100" fill="#fff" stroke="#222" stroke-width="1"/>
<g fill="#cfcfcf">
<rect x="361" y="1430" width="7" height="26"/><rect x="372" y="1436" width="10" height="20"/><rect x="384" y="1443" width="14" height="13"/><rect x="400" y="1434" width="4" height="22"/><rect x="412" y="1430" width="32" height="26"/>
<rect x="361" y="1462" width="18" height="20"/><rect x="381" y="1460" width="6" height="22"/><rect x="390" y="1472" width="14" height="10"/><rect x="406" y="1466" width="4" height="16"/><rect x="420" y="1462" width="24" height="20"/>
</g>
<path d="M358.7,1387.8V1487.8M451,1387.8V1487.8" stroke="#222" stroke-width="0.7"/>
<path d="M354,1395.6H455.4M354,1399H455.4M354,1407.6H455.4" stroke="#222" stroke-width="0.8"/>
<path d="M360,1426.6H450M360,1456.7H450" stroke="#555" stroke-width="1.8"/>
<path d="M354,1482.7H455.4" stroke="#222" stroke-width="0.8"/>
<path d="M365.6,1487.8V1509.5M370,1487.8V1509.5M440,1487.8V1509.5M444.4,1487.8V1509.5" stroke="#222" stroke-width="0.8"/>
<path class="d" d="M320,1385.6V1487.8M317.5,1385.6H322.5M317.5,1487.8H322.5M340.5,1456.7V1467.9M338.5,1456.7H342.5M338.5,1467.9H342.5M356,1519.6H455.4M356,1517V1522M455.4,1517V1522"/>
<text x="320.5" y="1438" font-size="14" textLength="19" lengthAdjust="spacingAndGlyphs">1M</text>
<text x="323" y="1465" font-size="8" textLength="15" lengthAdjust="spacingAndGlyphs">8CM</text>
<text x="405" y="1531" font-size="13" text-anchor="middle" textLength="19" lengthAdjust="spacingAndGlyphs">1M</text>
<path d="M437.6,1402L475,1388H551M434,1413.5L472,1427H551M451.3,1446L484,1458H551M437.6,1457.4L477,1496H551" fill="none" stroke="#222" stroke-width="0.7"/>
<g fill="#000"><circle cx="437.6" cy="1402" r="1.5"/><circle cx="434" cy="1413.5" r="1.5"/><circle cx="451.3" cy="1446" r="1.5"/><circle cx="437.6" cy="1457.4" r="1.5"/></g>
<text x="552.5" y="1385" class="s" text-anchor="end" textLength="73.8" lengthAdjust="spacingAndGlyphs">Folding Baffle</text>
<text x="553" y="1424" class="s" text-anchor="end" textLength="86.4" lengthAdjust="spacingAndGlyphs">Balloon Storage</text>
<text x="553" y="1437.5" class="s" text-anchor="end" textLength="28.8" lengthAdjust="spacingAndGlyphs">Layer</text>
<text x="551.8" y="1468.5" class="s" text-anchor="end" textLength="50" lengthAdjust="spacingAndGlyphs">Card Slot</text>
<text x="553" y="1494" class="s" text-anchor="end" textLength="57" lengthAdjust="spacingAndGlyphs">Adjustable</text>
<text x="553" y="1507.5" class="s" text-anchor="end" textLength="70" lengthAdjust="spacingAndGlyphs">Bottom Plate</text>

<!-- panel 7 -->
<rect x="576" y="1433" width="192.3" height="91" fill="url(#h)"/>
<path d="M576,1433H768.3" stroke="#111" stroke-width="1.6"/>
<g fill="none" stroke="#888" stroke-width="0.6">
<path d="M594,1452l4,-7l3,7zM606,1465l5,-2l-2,6zM640,1452l6,-4l0,7zM650,1469l5,-6l2,6zM591,1483l4,-6l3,6zM602,1500l3,-5l3,5zM664,1490l5,1l-3,5zM718,1473l6,-2l-3,6zM653,1510l4,-5l2,5zM740,1517l4,-5l3,5zM618,1477l6,-4l0,6z"/>
</g>
<g stroke="#c8c8c8" stroke-width="1" fill="none">
<path d="M710,1373.4L746,1400M798,1362.9L754,1400"/>
<circle cx="749.6" cy="1407" r="8"/><circle cx="749.6" cy="1407" r="5.5"/>
<path d="M747,1415V1433M752,1415V1433"/>
</g>
<path d="M592.5,1338.6L664.5,1386M754,1333.3L680.4,1388" stroke="#111" stroke-width="2" fill="none"/>
<polygon points="672,1418 685,1418 681,1440 679,1516 678,1516 675,1440" fill="#fff" stroke="#111" stroke-width="0.8"/>
<path d="M673,1444l10,-3M674,1450l9,-3M674,1456l9,-3M674.5,1462l8,-3M675,1468l7,-3M675.5,1474l6,-3M676,1480l5,-3M676.5,1486l4.5,-3M677,1492l3.5,-2.5M677,1498l3,-2.5M677.5,1504l2,-2" stroke="#111" stroke-width="0.8"/>
<circle cx="678" cy="1400.8" r="19.5" fill="#fff" stroke="#111" stroke-width="1.1"/>
<circle cx="678" cy="1400.8" r="13.5" fill="#fff" stroke="#111" stroke-width="1.1"/>
<path d="M670,1390L685,1387" stroke="#111" stroke-width="2"/>
<path class="d" d="M771.8,1419.4V1519M769,1419.4H774.6M769,1519H774.6"/>
<text x="775.3" y="1464" font-size="15" textLength="38.7" lengthAdjust="spacingAndGlyphs">15CM</text>

<!-- panel 8 -->
<path d="M880.8,1339.6V1365H891M896.6,1339.6V1349M1016.2,1339.6V1349M1030.2,1339.6V1365H1021" fill="none" stroke="#222" stroke-width="0.8"/>
<rect x="891.3" y="1349" width="130" height="41.7" fill="#fff" stroke="#222" stroke-width="1"/>
<rect x="892" y="1349" width="128" height="3.5" fill="#fff" stroke="#222" stroke-width="0.7"/>
<path d="M896,1352.5V1384.4M1016,1352.5V1384.4M891.3,1384.4H1021.3" stroke="#222" stroke-width="0.8"/>
<g fill="#bdbdbd">
<rect x="905.4" y="1359.7" width="26.4" height="23.8"/><rect x="933.5" y="1353.7" width="12.3" height="30.3"/><rect x="947.6" y="1375" width="19" height="9"/><rect x="969" y="1364" width="3" height="20"/><rect x="989.8" y="1353.7" width="22.8" height="30.3"/>
</g>
<path d="M905.4,1366H931.8M905.4,1372H931.8M905.4,1378H931.8M940,1353.7V1384M995,1353.7V1384M1003,1353.7V1384" stroke="#fff" stroke-width="0.8"/>
<path d="M976,1384L987,1358" stroke="#bdbdbd" stroke-width="2.5"/>
<g fill="#fff" stroke="#222" stroke-width="0.7">
<rect x="903.6" y="1390.7" width="7.1" height="52.3"/><rect x="904.8" y="1443" width="4.7" height="26.5"/><rect x="905.5" y="1469.5" width="3.3" height="25"/>
<rect x="1002" y="1390.7" width="7" height="52.3"/><rect x="1003.2" y="1443" width="4.7" height="26.5"/><rect x="1003.9" y="1469.5" width="3.3" height="25"/>
</g>
<path d="M905,1494.5L907.2,1500L909.3,1494.5M1003.5,1494.5L1005.5,1500L1007.6,1494.5" fill="none" stroke="#222" stroke-width="0.7"/>
<rect x="840.3" y="1500.4" width="202.2" height="24.6" fill="url(#h)"/>
<path d="M840.3,1500.4H1042.5" stroke="#111" stroke-width="1.6"/>
<path class="d" d="M857.2,1390.7V1494.7M854.7,1390.7H859.7M854.7,1494.7H859.7M886.7,1390.7V1494.7M884.2,1390.7H889.2M884.2,1443H889.2M884.2,1469.5H889.2M884.2,1494.7H889.2"/>
<text x="842.8" y="1445" font-size="13" text-anchor="middle" textLength="27" lengthAdjust="spacingAndGlyphs">0.8M</text>
<text x="872" y="1419" font-size="13" text-anchor="middle" textLength="27" lengthAdjust="spacingAndGlyphs">0.4M</text>
<text x="872" y="1459" font-size="13" text-anchor="middle" textLength="27" lengthAdjust="spacingAndGlyphs">0.2M</text>
<text x="872" y="1485" font-size="13" text-anchor="middle" textLength="27" lengthAdjust="spacingAndGlyphs">0.2M</text>
<rect x="993.3" y="1400.8" width="23.5" height="82.3" rx="5" fill="none" stroke="#000" stroke-width="2.2" stroke-dasharray="2 1.8"/>
<path d="M995,1444L1016,1452.5H1074" fill="none" stroke="#222" stroke-width="0.7"/>
<circle cx="995" cy="1444" r="1.4" fill="#000"/>
<text x="1074" y="1450" class="s" text-anchor="end" textLength="57" lengthAdjust="spacingAndGlyphs">Adjustable</text>
<text x="1074" y="1466" class="s" text-anchor="end" textLength="36" lengthAdjust="spacingAndGlyphs">Height</text>

<!-- bottom badges -->
<circle cx="68" cy="1331" r="9" fill="#d4401e"/><text x="68" y="1336" class="n">5</text>
<circle cx="322" cy="1331" r="9" fill="#d4401e"/><text x="322" y="1336" class="n">6</text>
<circle cx="582" cy="1331" r="9" fill="#d4401e"/><text x="582" y="1336" class="n">7</text>
<circle cx="842" cy="1331" r="9" fill="#d4401e"/><text x="842" y="1336" class="n">8</text>
</svg>
</body></html>
